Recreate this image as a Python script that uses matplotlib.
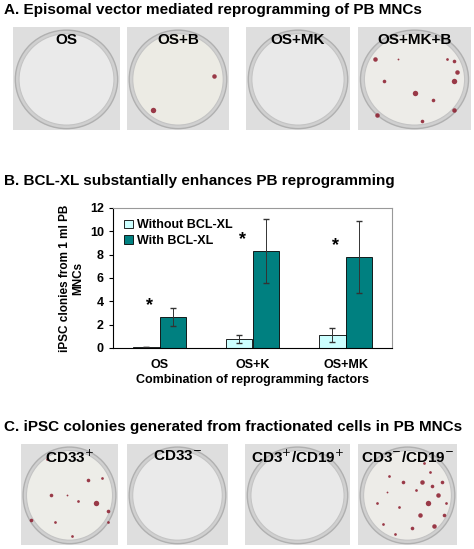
import numpy as np
import matplotlib.pyplot as plt
from matplotlib.patches import Circle, Rectangle

W, H = 474, 549

# panel B data
groups = ['OS', 'OS+K', 'OS+MK']
without_bcl = [0.05, 0.8, 1.15]
without_err = [0.0, 0.35, 0.6]
with_bcl = [2.65, 8.3, 7.8]
with_err = [0.8, 2.75, 3.1]

# dish photos: labels and colonies (x, y, size) in dish-relative coords (-1..1)
labels_a = ['OS', 'OS+B', 'OS+MK', 'OS+MK+B']
colonies_a = [
    [],
    [(0.85, 0.05, 5), (-0.6, -0.75, 6)],
    [],
    [(-0.85, 0.45, 5), (-0.65, -0.05, 4), (0.85, 0.4, 4), (0.9, 0.15, 5), (0.85, -0.05, 6),
     (0.0, -0.35, 6), (0.4, -0.5, 4), (0.85, -0.75, 5), (-0.8, -0.85, 5), (0.15, -1.0, 4),
     (0.7, 0.45, 3), (-0.35, 0.45, 2)],
]
labels_c = ['CD33$^{+}$', 'CD33$^{-}$', 'CD3$^{+}$/CD19$^{+}$', 'CD3$^{-}$/CD19$^{-}$']
colonies_c = [
    [(-0.55, 0.85, 3), (0.45, 0.35, 4), (-0.45, 0.0, 4), (0.2, -0.15, 3), (0.65, -0.2, 6),
     (0.95, -0.4, 4), (-0.95, -0.6, 4), (-0.35, -0.65, 3), (0.8, 0.4, 3), (0.05, -1.0, 3),
     (0.95, -0.65, 3), (-0.05, 0.0, 2)],
    [],
    [],
    [(-0.45, 0.45, 3), (0.35, 0.3, 5), (0.55, 0.55, 3), (0.85, 0.3, 4), (0.75, 0.0, 5),
     (0.5, -0.2, 6), (0.3, -0.5, 5), (-0.2, -0.3, 3), (0.9, -0.5, 4), (0.1, -0.8, 4),
     (-0.6, -0.7, 3), (0.65, -0.75, 5), (-0.1, 0.3, 4), (0.2, 0.1, 3), (-0.75, -0.2, 3),
     (0.4, 0.75, 3), (-0.3, -0.95, 3), (0.95, -0.2, 3), (0.6, 0.2, 4), (-0.5, 0.05, 2)],
]
boxes_a = [(13, 27, 107, 103), (127, 27, 102, 103), (246, 27, 104, 103), (358, 27, 113, 103)]
boxes_c = [(21, 444, 97, 101), (127, 444, 101, 101), (245, 444, 105, 101), (358, 444, 99, 101)]

fig = plt.figure(figsize=(W / 100, H / 100), dpi=100)
plt.rcParams['font.family'] = ['Liberation Sans', 'DejaVu Sans']


def px_axes(x, y, w, h):
    return fig.add_axes([x / W, 1 - (y + h) / H, w / W, h / H])


def draw_dish(box, label, cols, tint):
    ax = px_axes(*box)
    ax.set_xlim(-1.15, 1.15)
    ax.set_ylim(-1.15, 1.15)
    ax.axis('off')
    ax.add_patch(Rectangle((-1.15, -1.15), 2.3, 2.3, color='#dedede'))
    ax.add_patch(Circle((0, -0.02), 1.1, facecolor='#d0d0d0', edgecolor='#b0b0b0', lw=1))
    ax.add_patch(Circle((0, -0.02), 1.02, facecolor=tint, edgecolor='#c4c4c4', lw=0.8))
    for cx, cy, s in cols:
        ax.plot(cx * 0.95, cy * 0.95, 'o', color='#8b1a2b', ms=s * 0.65, alpha=0.85, mew=0)
    ax.text(0, 0.85, label, ha='center', va='center', fontsize=11, fontweight='bold')


fig.text(4 / W, 1 - 10 / H, 'A. Episomal vector mediated reprogramming of PB MNCs',
         fontsize=11, fontweight='bold', va='center')
for b, l, c, t in zip(boxes_a, labels_a, colonies_a, ['#eaeaea', '#ecebe4', '#e9e9e9', '#edece8']):
    draw_dish(b, l, c, t)

fig.text(4 / W, 1 - 181 / H, 'B. BCL-XL substantially enhances PB reprogramming',
         fontsize=11, fontweight='bold', va='center')
fig.text(4 / W, 1 - 427 / H, 'C. iPSC colonies generated from fractionated cells in PB MNCs',
         fontsize=11, fontweight='bold', va='center')
for b, l, c, t in zip(boxes_c, labels_c, colonies_c, ['#edede8', '#eaeaea', '#e9e9e9', '#edece8']):
    draw_dish(b, l, c, t)

ax = px_axes(113, 208, 279, 140)
x = np.arange(len(groups))
bw = 0.28
ax.bar(x - bw / 2, without_bcl, bw, yerr=without_err, color='#ccffff', edgecolor='black',
       lw=0.6, capsize=2.5, error_kw=dict(lw=0.7, ecolor='#333333'), label='Without BCL-XL')
ax.bar(x + bw / 2, with_bcl, bw, yerr=with_err, color='#008080', edgecolor='black',
       lw=0.6, capsize=2.5, error_kw=dict(lw=0.7, ecolor='#333333'), label='With BCL-XL')
for xi, v, e in zip(x, with_bcl, with_err):
    ax.text(xi - bw * 0.4, v + 0.25, '*', ha='center', va='bottom', fontsize=13, fontweight='bold')
ax.set_xlim(-0.5, 2.5)
ax.set_ylim(0, 12)
ax.set_yticks(range(0, 13, 2))
ax.set_xticks(x)
ax.set_xticklabels(groups, fontsize=9, fontweight='bold')
ax.tick_params(axis='y', labelsize=9, length=3)
ax.tick_params(axis='x', length=0, pad=8)
for t in ax.get_yticklabels():
    t.set_fontweight('bold')
for sp in ax.spines.values():
    sp.set_color('#999999')
ax.spines['left'].set_color('black')
ax.spines['bottom'].set_color('black')
ax.set_xlabel('Combination of reprogramming factors', fontsize=9, fontweight='bold', labelpad=2)
ax.set_ylabel('iPSC clonies from 1 ml PB\nMNCs', fontsize=8.5, fontweight='bold', labelpad=4)
ax.legend(loc='upper left', frameon=False, prop={'weight': 'bold', 'size': 9},
          handlelength=0.7, handleheight=0.7, handletextpad=0.3, borderaxespad=0.5,
          labelspacing=0.3)

fig.savefig('out.png', dpi=100)
